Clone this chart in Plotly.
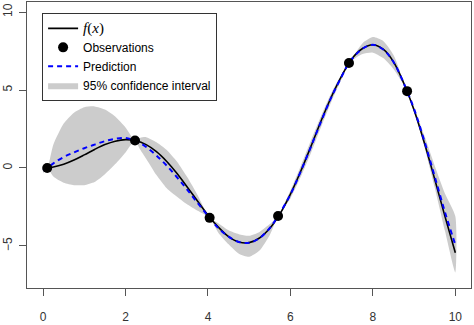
import plotly.graph_objects as go

# true function f(x)
fx_x = [0.1, 0.25, 0.5, 0.75, 1.0, 1.25, 1.5, 1.75, 2.0, 2.25, 2.5, 2.75, 3.0, 3.25, 3.5, 3.75,
        4.0, 4.25, 4.5, 4.75, 5.0, 5.25, 5.5, 5.75, 6.0, 6.25, 6.5, 6.75, 7.0, 7.25, 7.5, 7.75,
        8.0, 8.25, 8.5, 8.75, 9.0, 9.25, 9.5, 9.75, 10.0]
fx_y = [0.01, 0.06, 0.24, 0.51, 0.84, 1.19, 1.50, 1.72, 1.82, 1.75, 1.50, 1.05, 0.42, -0.35, -1.23, -2.14,
        -3.03, -3.79, -4.40, -4.75, -4.79, -4.49, -3.87, -2.93, -1.68, -0.21, 1.40, 3.06, 4.60, 5.94, 7.04, 7.67,
        7.91, 7.62, 6.81, 5.44, 3.71, 1.61, -0.72, -3.12, -5.44]

# observations
obs_x = [0.1, 2.23, 4.04, 5.7, 7.42, 8.83]
obs_y = [0.0, 1.76, -3.2, -3.08, 6.74, 4.93]

# prediction and 95% band
pr_x = [0.0, 0.1, 0.25, 0.5, 0.75, 1.0, 1.25, 1.5, 1.75, 2.0, 2.23, 2.35, 2.5, 2.75, 3.0, 3.25, 3.5, 3.75,
        4.04, 4.25, 4.5, 4.75, 5.0, 5.25, 5.5, 5.7, 6.0, 6.25, 6.5, 6.75, 7.0, 7.25, 7.42, 7.75,
        8.0, 8.25, 8.5, 8.83, 9.0, 9.25, 9.5, 9.75, 10.0]
pr_y = [-0.15, 0.0, 0.3, 0.7, 1.0, 1.27, 1.5, 1.72, 1.87, 1.92, 1.76, 1.6, 1.35, 0.8, 0.15, -0.6, -1.4, -2.25,
        -3.2, -3.85, -4.4, -4.75, -4.8, -4.5, -3.85, -3.08, -1.7, -0.22, 1.38, 3.03, 4.58, 5.9, 6.74, 7.66,
        7.9, 7.6, 6.8, 4.93, 3.78, 1.72, -0.55, -2.85, -4.93]
up_y = [-0.05, 0.0, 1.5, 2.85, 3.55, 3.9, 3.95, 3.75, 3.3, 2.6, 1.76, 1.93, 1.98, 1.65, 1.15, 0.4, -0.6, -1.75,
        -3.2, -3.55, -4.0, -4.25, -4.35, -4.1, -3.6, -3.08, -1.45, 0.13, 1.78, 3.38, 4.86, 6.05, 6.74, 8.01,
        8.4, 8.15, 7.25, 4.93, 3.9, 2.07, 0.15, -1.65, -3.1]
lo_y = [-0.35, 0.0, -0.55, -0.95, -1.1, -1.1, -0.9, -0.4, 0.25, 1.0, 1.76, 1.2, 0.6, -0.45, -1.3, -1.85, -2.35, -2.75,
        -3.2, -4.15, -4.9, -5.5, -5.7, -5.3, -4.3, -3.08, -1.95, -0.57, 0.98, 2.68, 4.3, 5.75, 6.74, 7.31,
        7.4, 7.05, 6.35, 4.93, 3.66, 1.37, -1.25, -4.05, -6.7]

xticks = [0, 2, 4, 6, 8, 10]
yticks = [-5, 0, 5, 10]

fig = go.Figure()
fig.add_trace(go.Scatter(x=pr_x + pr_x[::-1], y=up_y + lo_y[::-1], fill="toself",
                         fillcolor="#cccccc", line=dict(width=0, shape="spline", smoothing=0.6),
                         mode="lines", name="95% confidence interval", legendrank=4,
                         hoverinfo="skip"))
fig.add_trace(go.Scatter(x=fx_x, y=fx_y, mode="lines", line=dict(color="black", width=1.6, shape="spline"),
                         name='<span style="font-family:\'Liberation Serif\';font-size:15px"><i>f</i>(<i>x</i>)</span>',
                         legendrank=1))
fig.add_trace(go.Scatter(x=pr_x, y=pr_y, mode="lines",
                         line=dict(color="#0000ff", width=2, dash="5px,4px", shape="spline"),
                         name="Prediction", legendrank=3))
fig.add_trace(go.Scatter(x=obs_x, y=obs_y, mode="markers", marker=dict(color="black", size=10),
                         name="Observations", legendrank=2))

axis_common = dict(showline=True, linecolor="#555555", linewidth=1, mirror=True, showgrid=False,
                   zeroline=False, ticks="outside", ticklen=7, tickcolor="#555555",
                   tickfont=dict(family="Liberation Sans", size=12, color="#333333"))
fig.update_xaxes(range=[-0.39, 10.38], tickvals=xticks, ticklabelstandoff=11, **axis_common)
fig.update_yaxes(range=[-7.7, 10.65], tickvals=yticks, tickangle=-90, ticklabelstandoff=2, **axis_common)

fig.update_layout(width=474, height=325, margin=dict(l=27, r=3, t=1, b=27),
                  plot_bgcolor="white", paper_bgcolor="white",
                  legend=dict(x=0.034, y=0.962, xanchor="left", yanchor="top",
                              bordercolor="#333333", borderwidth=1, bgcolor="white",
                              font=dict(family="Liberation Sans", size=12, color="black"),
                              tracegroupgap=0))
fig.write_html("out.html")
